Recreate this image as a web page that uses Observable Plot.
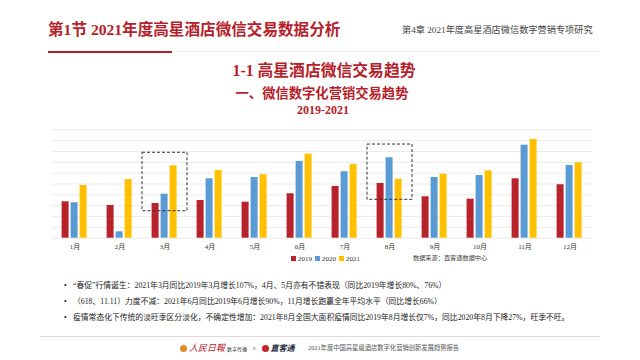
<!DOCTYPE html>
<html><head><meta charset="utf-8">
<script src="https://cdn.jsdelivr.net/npm/d3@7"></script>
<script src="https://cdn.jsdelivr.net/npm/@observablehq/plot@0.6"></script>
<style>
html,body{margin:0;padding:0;background:#fff;}
#page{position:relative;width:640px;height:360px;overflow:hidden;font-family:"Liberation Serif","Noto Sans CJK SC",serif;}
.abs{position:absolute;white-space:nowrap;line-height:1;}
.ctr{transform:translateX(-50%);}
.red{color:#b5212b;}
#chart{position:absolute;left:0;top:120px;}
.lg{display:inline-block;width:5px;height:5px;margin:0 2px 0 3px;vertical-align:0px;}
.bul{font-size:7.8px;color:#222;}
</style></head><body>
<div id="page">
  <div class="abs red" style="left:48px;top:22px;font-size:15.6px;font-weight:bold;">第1节 2021年度高星酒店微信交易数据分析</div>
  <div class="abs" style="left:402px;top:26px;font-size:9.2px;color:#444;">第4章 2021年度高星酒店微信数字营销专项研究</div>
  <div class="abs" style="left:48px;top:51px;width:549px;height:1px;background:#ececec;"></div>
  <div class="abs" style="left:48px;top:51px;width:124px;height:2px;background:#b5212b;"></div>

  <div class="abs red ctr" style="left:324px;top:63px;font-size:15.8px;font-weight:bold;">1-1 高星酒店微信交易趋势</div>
  <div class="abs red ctr" style="left:322px;top:87px;font-size:13.3px;font-weight:bold;">一、微信数字化营销交易趋势</div>
  <div class="abs red ctr" style="left:323px;top:104px;font-size:12px;font-weight:bold;">2019-2021</div>

  <div id="chart"></div>

  <div id="legend" class="abs" style="left:288px;top:256px;font-size:7px;color:#333;"></div>
  <div class="abs" style="left:413px;top:255px;font-size:6.2px;color:#444;">数据来源：直客通数据中心</div>

  <div id="bullets"></div>

  <div class="abs" style="left:40px;top:336px;width:560px;height:1px;background:#e6d6da;"></div>
  <div class="abs" style="left:180px;top:344px;font-size:8px;color:#b5212b;">
    <span style="display:inline-block;width:7px;height:7px;border-radius:50%;background:#e08a2a;vertical-align:-1px;"></span>
    <span style="font-style:italic;font-size:9px;">人民日報</span><span style="font-size:5px;color:#333;margin-left:2px;">数字传播</span>
    <span style="color:#777;margin:0 3px;">×</span>
    <span style="display:inline-block;width:7px;height:7px;border-radius:50%;background:#c8232c;vertical-align:-1px;"></span>
    <span style="font-weight:bold;font-style:italic;color:#1f2a44;">直客通</span>
  </div>
  <div class="abs" style="left:308px;top:345px;font-size:6.3px;color:#555;">2021年度中国高星级酒店数字化营销创新发展趋势报告</div>
</div>
<script>
const months = ["1月","2月","3月","4月","5月","6月","7月","8月","9月","10月","11月","12月"];
const years = ["2019","2020","2021"];
const v2019 = [3.36,3.02,3.20,3.48,3.32,4.10,4.77,5.05,3.82,3.60,5.48,4.93];
const v2020 = [3.27,0.59,4.06,5.48,5.60,7.08,6.13,7.42,5.60,5.78,8.58,6.71];
const v2021 = [4.86,5.41,6.68,6.25,5.85,7.75,6.80,5.44,5.90,6.22,9.11,6.96];
const colors = ["#b7222b","#5b9bd5","#ffc000"];
const gridTicks = [0,1,2,3,4,5,6,7,8,9,10];
const highlightMonths = ["3月","8月"];
const highlightLow = [2.49,3.54];
const highlightHigh = [7.88,8.64];
const bulletTexts = [
  "“春促”行情诞生：2021年3月同比2019年3月增长107%，4月、5月亦有不错表现（同比2019年增长80%、76%）",
  "（618、11.11）力度不减：2021年6月同比2019年6月增长90%，11月增长跑赢全年平均水平（同比增长66%）",
  "疫情常态化下传统的淡旺季区分淡化，不确定性增加：2021年8月全国大面积疫情同比2019年8月增长仅7%，同比2020年8月下降27%，旺季不旺。"
];

const series = [v2019, v2020, v2021];
const data = [];
months.forEach((m, i) => years.forEach((y, j) => data.push({month: m, year: y, value: series[j][i]})));
const boxes = highlightMonths.map((m, i) => ({month: m, lo: highlightLow[i], hi: highlightHigh[i]}));

const chart = Plot.plot({
  width: 640,
  height: 140,
  marginTop: 9.3,
  marginBottom: 22.3,
  marginLeft: 50.4,
  marginRight: 47.4,
  style: {fontFamily: '"Liberation Serif","Noto Sans CJK SC",serif', fontSize: "7px", color: "#333", background: "transparent"},
  fx: {domain: months, padding: 0, label: null},
  x: {domain: years, paddingInner: 0.2, paddingOuter: 0.86, axis: null},
  y: {domain: [0, 10], axis: null},
  color: {domain: years, range: colors},
  marks: [
    Plot.gridY(gridTicks, {stroke: "#e4e4e4", strokeOpacity: 1, strokeWidth: 0.8}),
    Plot.barY(data, {fx: "month", x: "year", y: "value", fill: "year"}),
    Plot.rectY(boxes, {fx: "month", y1: "lo", y2: "hi", fill: "none", stroke: "#333", strokeWidth: 1, strokeDasharray: "3,2"}),
    Plot.axisFx({anchor: "bottom", tickSize: 0, tickPadding: 6, label: null, fill: "#333"})
  ]
});
document.getElementById("chart").appendChild(chart);

const legend = document.getElementById("legend");
years.forEach((y, i) => {
  const sw = document.createElement("span");
  sw.className = "lg";
  sw.style.background = colors[i];
  legend.appendChild(sw);
  legend.appendChild(document.createTextNode(y));
});

const bullets = document.getElementById("bullets");
const rowsY = [286, 302.3, 318.3];
bulletTexts.forEach((t, i) => {
  const dot = document.createElement("div");
  dot.className = "abs bul";
  dot.style.left = "64px";
  dot.style.top = (rowsY[i] - 4) + "px";
  dot.textContent = "•";
  bullets.appendChild(dot);
  const d = document.createElement("div");
  d.className = "abs bul";
  d.style.left = "73px";
  d.style.top = (rowsY[i] - 4) + "px";
  d.textContent = t;
  bullets.appendChild(d);
});
</script>
</body></html>
